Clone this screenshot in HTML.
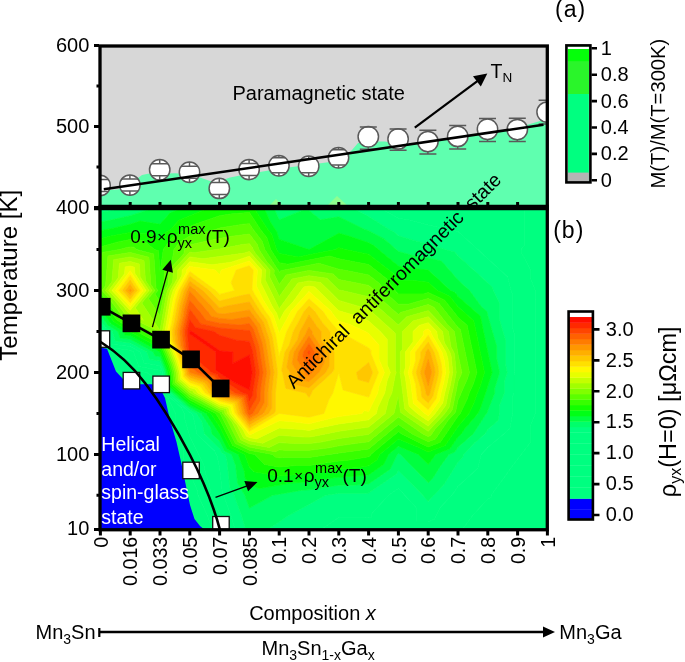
<!DOCTYPE html>
<html><head><meta charset="utf-8"><style>
html,body{margin:0;padding:0;background:#fff;width:685px;height:662px;overflow:hidden}
svg{display:block}
text{font-family:"Liberation Sans",Arial,sans-serif}
</style></head><body>
<svg width="685" height="662" viewBox="0 0 685 662">
<defs><clipPath id="cb"><rect x="100" y="208" width="447.3" height="321"/></clipPath><clipPath id="ca"><rect x="100" y="46" width="447.3" height="161.6"/></clipPath></defs>
<rect x="100" y="46" width="447.3" height="161.6" fill="#d7d7d7"/>
<polygon fill="#5fffaf" points="100.0,196.0 104.0,193.0 108.0,190.0 118.0,189.5 128.0,186.0 134.0,182.0 138.0,178.0 142.0,175.0 148.0,173.8 176.0,173.3 190.0,175.0 200.0,177.5 210.0,181.0 220.0,181.0 230.0,177.5 240.0,175.5 260.0,172.0 280.0,168.5 300.0,166.0 330.0,162.0 345.0,157.0 352.0,150.0 358.0,143.0 370.0,141.5 385.0,141.5 400.0,144.5 420.0,144.0 440.0,140.0 460.0,136.5 480.0,134.0 500.0,131.0 520.0,127.0 540.0,121.0 547.3,118.0 547.3,208.0 100.0,208.0"/>
<polygon fill="#8fff8f" points="268,207 276,199 284,207"/><polygon fill="#8fff8f" points="326,207 337,196 349,207"/>
<g clip-path="url(#cb)">
<path fill="#00ff80" stroke="#00ff80" stroke-width="0.7" d="M98.0 358.8L119.5 372.5L119.5 379.3L130.2 386.1L140.1 393.0L150.1 399.8L160.0 399.8L166.6 413.4L166.6 429.4L167.9 433.9L169.9 440.8L169.9 454.4L169.9 468.1L173.2 474.9L179.9 488.5L179.9 495.3L189.8 506.3L193.1 513.5L194.1 515.8L195.1 518.5L199.7 531.0L189.8 531.0L160.0 531.0L130.2 531.0L98.0 531.0L98.0 515.8L98.0 495.3L98.0 474.9L98.0 454.4L98.0 433.9L98.0 413.4L98.0 393.0L98.0 372.5Z"/>
<path fill="#00ff80" stroke="#00ff80" stroke-width="0.7" d="M199.7 531.0L195.1 518.5L194.1 515.8L193.1 513.5L189.8 506.3L179.9 495.3L179.9 488.5L173.2 474.9L169.9 468.0L169.9 454.4L169.9 440.8L167.9 433.9L166.6 429.4L166.6 413.4L160.0 399.8L150.1 399.8L140.1 393.0L130.2 386.2L119.5 379.3L119.5 372.5L98.0 358.8L98.0 352.0L98.0 340.6L101.0 350.1L115.9 352.0L130.2 361.1L133.5 370.2L146.8 372.5L160.0 381.6L161.0 392.3L161.8 393.0L168.3 398.7L175.5 413.4L175.5 423.3L178.5 433.9L183.2 449.8L183.2 454.4L183.2 458.9L189.8 472.6L190.6 474.3L190.7 474.9L197.2 490.3L198.1 495.4L203.2 506.6L207.4 515.8L211.4 526.8L213.0 531.0Z"/>
<path fill="#00ff80" stroke="#00ff80" stroke-width="0.7" d="M461.3 531.0L463.3 528.3L472.5 515.8L478.4 509.3L487.8 499.0L491.1 497.6L491.1 495.4L494.4 490.8L506.0 474.9L509.9 469.6L517.6 458.9L521.1 454.4L530.6 442.3L530.6 433.9L530.6 425.6L535.3 413.4L535.3 402.1L535.3 393.0L535.3 383.9L535.3 372.5L535.3 361.1L535.3 352.0L535.3 342.9L535.3 331.5L535.3 322.4L535.3 311.1L535.3 299.7L535.3 290.6L530.6 278.5L530.6 270.1L521.1 251.9L521.1 249.6L524.7 245.1L524.7 229.2L524.7 210.4L549.5 210.4L549.5 229.2L549.5 249.6L549.5 270.1L549.5 290.6L549.5 311.1L549.5 331.5L549.5 352.0L549.5 372.5L549.5 393.0L549.5 413.4L549.5 433.9L549.5 454.4L549.5 474.9L549.5 495.3L549.5 515.8L549.5 531.0L517.6 531.0L487.8 531.0ZM213.0 531.0L211.4 526.8L207.4 515.8L203.2 506.6L198.1 495.3L197.2 490.3L190.7 474.9L190.6 474.3L189.8 472.6L183.2 458.9L183.2 454.4L183.2 449.9L178.5 433.9L175.5 423.3L175.5 413.4L168.3 398.7L161.8 393.0L161.0 392.3L160.0 381.6L146.8 372.5L133.5 370.2L130.2 361.1L115.9 352.0L101.0 350.1L98.0 340.6L98.0 331.5L98.0 328.7L99.4 330.6L100.9 331.5L105.8 347.1L130.2 350.2L133.5 352.0L138.8 366.6L160.0 370.2L160.7 372.0L160.9 372.5L162.6 391.2L164.7 393.0L181.5 407.8L184.3 413.4L184.3 417.2L189.1 433.9L189.8 436.2L198.6 454.4L203.9 465.2L205.9 474.9L208.9 482.2L211.3 495.3L213.3 499.7L219.6 513.5L220.4 515.8L224.2 528.7L224.9 531.0L219.6 531.0Z"/>
<path fill="#00ff80" stroke="#00ff80" stroke-width="0.7" d="M549.5 210.4L524.7 210.4L524.7 229.2L524.7 245.1L521.1 249.6L521.1 251.9L530.6 270.1L530.6 278.5L535.3 290.6L535.3 299.7L535.3 311.1L535.3 322.4L535.3 331.5L535.3 342.9L535.3 352.0L535.3 361.1L535.3 372.5L535.3 383.9L535.3 393.0L535.3 402.1L535.3 413.4L530.6 425.6L530.6 433.9L530.6 442.3L521.1 454.4L517.6 458.9L509.9 469.6L506.0 474.9L494.4 490.8L491.1 495.4L491.1 497.6L487.8 499.0L478.4 509.3L472.5 515.8L463.3 528.3L461.3 531.0L458.0 531.0L428.2 531.0L398.4 531.0L368.6 531.0L338.8 531.0L318.9 531.0L327.4 525.2L338.8 517.5L365.3 517.5L368.6 517.5L371.9 517.5L371.9 515.8L371.9 513.6L388.5 495.3L398.4 488.5L402.4 492.6L405.0 495.4L416.1 507.5L416.1 515.8L416.1 522.0L428.2 522.0L434.6 519.1L436.0 515.8L440.3 507.5L451.4 495.4L454.0 492.6L458.0 486.2L470.4 474.9L477.9 468.0L481.2 454.4L487.8 447.6L503.7 433.9L509.9 428.6L512.6 413.5L512.6 396.4L514.0 393.0L514.0 375.0L514.8 372.5L514.3 370.2L514.3 352.0L514.3 333.8L513.6 331.5L512.6 328.1L512.6 311.1L512.6 294.0L511.0 290.6L507.7 277.0L500.2 270.1L487.8 258.8L482.1 253.6L477.9 249.6L458.0 231.5L448.1 229.2L428.2 225.1L409.8 219.9L398.4 218.3L374.8 205.0L398.4 205.0L428.2 205.0L458.0 205.0L487.8 205.0L517.6 205.0L549.5 205.0ZM224.9 531.0L224.2 528.7L220.4 515.8L219.6 513.5L213.3 499.7L211.3 495.4L208.9 482.2L205.9 474.9L203.9 465.2L198.6 454.4L189.8 436.2L189.1 433.9L184.3 417.2L184.3 413.4L181.5 407.8L164.7 393.0L162.6 391.2L160.9 372.5L160.7 372.0L160.0 370.2L138.8 366.6L133.5 352.0L130.2 350.2L105.8 347.1L100.9 331.5L99.4 330.6L98.0 328.7L98.0 323.1L102.3 328.8L106.6 331.5L110.5 344.1L130.2 346.6L140.1 352.0L144.1 362.9L160.0 365.7L162.1 371.0L162.6 372.5L164.2 390.1L167.5 393.0L189.8 412.5L191.6 413.4L193.1 415.7L196.9 433.9L214.6 451.0L216.3 454.4L217.1 456.1L219.6 468.1L220.4 474.9L222.4 493.4L223.6 495.3L224.9 499.0L231.0 515.8L233.4 524.0L235.5 531.0Z"/>
<path fill="#00ff80" stroke="#00ff80" stroke-width="0.7" d="M136.8 205.0L130.2 207.1L126.1 208.1L98.0 212.8L98.0 205.0L130.2 205.0ZM374.8 205.0L398.4 218.3L409.8 219.9L428.2 225.1L448.1 229.2L458.0 231.5L477.9 249.6L482.1 253.6L487.8 258.8L500.2 270.1L507.7 277.0L511.0 290.6L512.6 294.0L512.6 311.1L512.6 328.1L513.6 331.5L514.3 333.8L514.3 352.0L514.3 370.2L514.8 372.5L514.0 375.0L514.0 393.0L512.6 396.4L512.6 413.4L509.9 428.6L503.7 433.9L487.8 447.6L481.2 454.4L477.9 468.0L470.4 474.9L458.0 486.2L454.0 492.6L451.4 495.4L440.3 507.5L436.0 515.8L434.6 519.1L428.2 522.0L416.1 522.0L416.1 515.8L416.1 507.5L405.0 495.4L402.4 492.6L398.4 488.5L388.5 495.3L371.9 513.6L371.9 515.8L371.9 517.5L368.6 517.5L365.3 517.5L338.8 517.5L327.4 525.2L318.9 531.0L309.0 531.0L279.2 531.0L266.0 531.0L271.6 527.1L279.2 522.0L288.3 515.8L299.8 509.5L309.0 504.4L325.6 495.3L336.4 493.7L338.8 493.3L365.7 493.3L368.6 493.1L395.1 474.9L396.7 473.7L398.4 470.3L402.8 474.9L413.0 485.3L422.7 495.3L428.2 501.4L433.7 495.3L443.4 485.3L450.0 474.9L458.0 462.0L462.7 457.6L463.5 454.4L474.6 443.0L484.9 433.9L487.8 429.4L498.1 420.5L499.4 413.4L499.4 405.5L504.4 393.0L504.4 381.6L507.2 372.5L505.5 364.2L505.5 352.0L505.5 339.9L503.0 331.5L499.4 319.0L499.4 311.1L499.4 303.1L493.3 290.6L492.5 287.4L487.8 283.0L479.8 275.6L473.7 270.1L467.0 263.9L458.0 255.7L454.7 251.9L444.8 249.6L428.2 244.0L415.5 240.9L398.4 235.8L394.2 232.1L388.8 229.2L368.6 216.6L347.1 205.0L368.6 205.0ZM235.5 531.0L233.4 524.0L231.0 515.8L224.9 499.0L223.6 495.3L222.4 493.4L220.4 474.9L219.6 468.0L217.1 456.1L216.3 454.4L214.6 451.0L196.9 433.9L193.1 415.7L191.6 413.4L189.8 412.5L167.5 393.0L164.2 390.1L162.6 372.5L162.1 371.0L160.0 365.7L144.1 362.9L140.1 352.0L130.2 346.6L110.5 344.1L106.6 331.5L102.3 328.8L98.0 323.1L98.0 317.6L105.2 327.0L112.3 331.5L115.3 341.0L130.2 342.9L146.8 352.0L149.4 359.3L160.0 361.1L163.6 370.0L164.3 372.5L165.8 389.0L170.4 393.0L189.8 410.0L196.4 413.4L201.9 421.8L204.5 433.9L219.6 448.5L221.8 452.9L225.0 454.4L226.8 459.3L228.5 474.9L230.0 488.2L234.2 495.3L239.0 508.7L241.6 515.8L242.6 519.3L246.1 531.0Z"/>
<path fill="#00ff6a" stroke="#00ff6a" stroke-width="0.7" d="M163.3 205.0L161.1 205.9L160.0 207.1L157.8 206.8L130.2 215.7L109.8 220.3L98.0 222.3L98.0 212.8L126.1 208.1L130.2 207.1L136.8 205.0L160.0 205.0ZM347.1 205.0L368.6 216.6L388.8 229.2L394.2 232.1L398.4 235.8L415.5 240.9L428.2 244.0L444.8 249.6L454.7 251.9L458.0 255.7L467.0 263.9L473.7 270.1L479.8 275.6L487.8 283.0L492.5 287.4L493.3 290.6L499.4 303.1L499.4 311.1L499.4 319.0L503.0 331.5L505.5 339.9L505.5 352.0L505.5 364.2L507.2 372.5L504.4 381.6L504.4 393.0L499.4 405.5L499.4 413.4L498.1 420.5L487.8 429.4L484.9 433.9L474.6 443.0L463.5 454.4L462.7 457.6L458.0 462.0L450.0 474.9L443.4 485.3L433.7 495.3L428.2 501.4L422.7 495.3L413.0 485.3L402.8 474.9L398.4 470.3L396.7 473.7L395.1 474.9L368.6 493.1L365.7 493.3L338.8 493.3L336.4 493.7L325.6 495.3L309.0 504.4L299.8 509.5L288.3 515.8L279.2 522.0L271.6 527.1L266.0 531.0L249.4 531.0L246.1 531.0L242.6 519.3L241.6 515.8L239.0 508.7L234.2 495.3L230.0 488.2L228.5 474.9L226.8 459.3L225.0 454.4L221.8 452.9L219.6 448.5L204.5 433.9L201.9 421.8L196.4 413.4L189.8 410.0L170.4 393.0L165.8 389.0L164.3 372.5L163.6 370.0L160.0 361.1L149.4 359.3L146.8 352.0L130.2 342.9L115.3 341.0L112.3 331.5L105.2 327.0L98.0 317.6L98.0 311.9L108.0 325.2L118.0 331.5L120.1 338.0L130.2 339.3L153.4 352.0L154.7 355.7L160.0 356.6L165.0 369.1L166.0 372.5L167.4 387.9L173.2 393.0L189.8 407.5L201.2 413.4L210.8 427.9L212.0 433.9L219.6 441.2L224.5 451.0L231.6 454.4L235.6 465.4L236.7 474.9L237.6 483.0L244.8 495.3L249.4 508.1L272.6 495.3L279.2 494.2L301.7 490.3L309.0 489.8L326.8 487.1L338.8 485.2L353.9 485.2L368.6 484.0L381.8 474.9L390.1 469.2L397.3 454.4L397.8 454.0L398.4 453.5L400.6 454.4L405.0 458.9L420.5 474.9L423.6 478.1L428.2 482.8L432.8 478.1L434.8 474.9L439.8 466.9L448.9 454.4L454.7 452.1L458.0 447.2L473.1 433.9L485.2 415.3L486.7 413.4L487.0 412.9L487.8 410.4L494.7 393.0L494.7 388.2L499.6 372.5L496.6 358.1L496.6 352.0L496.6 346.0L492.4 331.5L487.8 315.6L487.0 311.6L486.3 311.1L481.2 306.5L469.6 290.6L464.6 286.1L458.0 280.0L449.4 270.1L441.4 261.0L428.2 258.0L417.8 256.8L398.4 251.5L396.2 249.6L384.2 238.9L368.6 230.7L364.2 229.2L338.8 216.8L320.6 219.8L309.0 210.4L302.4 210.4L279.2 219.8L272.5 205.0L279.2 205.0L309.0 205.0L338.8 205.0Z"/>
<path fill="#00ff40" stroke="#00ff40" stroke-width="0.7" d="M189.8 205.0L169.9 213.1L160.0 224.3L140.1 221.1L130.2 224.3L108.7 229.2L100.5 230.7L98.0 231.4L98.0 229.2L98.0 222.3L109.8 220.3L130.2 215.7L157.8 206.8L160.0 207.1L161.1 205.9L163.3 205.0ZM272.5 205.0L279.2 219.8L302.4 210.4L309.0 210.4L320.6 219.8L338.8 216.8L364.2 229.2L368.6 230.7L384.2 238.9L396.2 249.6L398.4 251.5L417.8 256.8L428.2 258.0L441.4 261.0L449.4 270.1L458.0 280.0L464.6 286.1L469.6 290.6L481.2 306.5L486.3 311.1L487.0 311.6L487.8 315.6L492.4 331.5L496.6 346.0L496.6 352.0L496.6 358.1L499.6 372.5L494.7 388.2L494.7 393.0L487.8 410.4L487.0 412.9L486.7 413.4L485.2 415.3L473.1 433.9L458.0 447.2L454.7 452.1L448.9 454.4L439.8 466.9L434.8 474.9L432.8 478.1L428.2 482.8L423.6 478.1L420.5 474.9L405.0 458.9L400.6 454.4L398.4 453.5L397.8 454.0L397.3 454.4L390.1 469.2L381.8 474.9L368.6 484.0L353.9 485.2L338.8 485.2L326.8 487.1L309.0 489.8L301.7 490.3L279.2 494.2L272.6 495.3L249.4 508.1L244.8 495.3L237.6 483.0L236.7 474.9L235.6 465.4L231.6 454.4L224.5 451.0L219.6 441.2L212.0 433.9L210.8 427.9L201.2 413.4L189.8 407.5L173.2 393.0L167.4 387.9L166.0 372.5L165.0 369.1L160.0 356.6L154.7 355.7L153.4 352.0L130.2 339.3L120.1 338.0L118.0 331.5L108.0 325.2L98.0 311.9L98.0 311.1L98.0 306.4L101.6 311.1L110.9 323.4L123.8 331.5L124.8 335.0L130.2 335.6L160.0 352.0L166.4 368.1L167.7 372.5L169.0 386.8L176.1 393.0L189.8 405.0L206.1 413.4L219.6 433.9L227.2 449.1L238.2 454.4L244.4 471.5L244.8 474.9L245.1 477.8L249.4 485.1L259.3 488.5L279.2 485.1L291.1 483.1L309.0 481.7L317.1 480.5L338.8 477.1L342.1 477.1L368.6 474.9L383.5 464.6L388.5 454.4L393.0 450.7L398.4 446.2L418.3 454.4L428.2 464.6L435.7 454.4L449.9 448.8L458.0 436.8L461.3 433.9L464.0 429.8L477.9 413.4L480.4 408.3L485.5 393.0L486.0 391.8L487.8 386.1L492.1 372.5L487.8 352.0L484.1 334.1L483.5 331.5L480.4 316.2L474.6 311.1L458.0 296.5L455.0 292.6L450.6 290.6L428.2 270.1L402.7 267.2L398.4 266.0L378.5 249.6L374.2 245.8L368.6 242.8L348.7 236.0L338.8 233.3L309.0 249.6L279.2 239.4L276.5 231.0L275.1 229.2L270.4 222.1L262.6 205.0Z"/>
<path fill="#00ff16" stroke="#00ff16" stroke-width="0.7" d="M216.3 205.0L189.8 215.7L178.8 220.2L170.9 229.2L165.1 232.7L160.0 239.6L153.1 233.9L130.2 232.4L109.3 236.3L98.0 239.5L98.0 231.4L100.5 230.7L108.7 229.2L130.2 224.3L140.1 221.1L160.0 224.3L169.9 213.1L189.8 205.0ZM262.6 205.0L270.4 222.1L275.1 229.2L276.5 231.0L279.2 239.4L309.0 249.6L338.8 233.3L348.7 236.0L368.6 242.8L374.2 245.8L378.5 249.6L398.4 266.0L402.7 267.2L428.2 270.1L450.5 290.6L455.0 292.6L458.0 296.5L474.6 311.1L480.4 316.2L483.5 331.5L484.1 334.1L487.8 352.0L492.1 372.5L487.8 386.1L486.0 391.8L485.5 393.0L480.4 408.3L477.9 413.4L464.0 429.8L461.3 433.9L458.0 436.8L449.9 448.8L435.7 454.4L428.2 464.6L418.3 454.4L398.4 446.2L393.0 450.7L388.5 454.4L383.5 464.6L368.6 474.9L342.1 477.1L338.8 477.1L317.1 480.5L309.0 481.7L291.1 483.1L279.2 485.1L259.3 488.5L249.4 485.1L245.1 477.8L244.8 474.9L244.4 471.5L238.2 454.4L227.2 449.1L219.6 433.9L206.1 413.4L189.8 405.0L176.1 393.0L169.0 386.8L167.7 372.5L166.4 368.1L160.0 352.0L130.2 335.6L124.8 335.0L123.8 331.5L110.9 323.4L101.6 311.1L98.0 306.4L98.0 300.8L105.8 311.1L113.7 321.5L129.5 331.5L129.6 331.9L130.2 332.0L133.5 333.8L160.0 348.0L161.8 352.0L167.9 367.1L169.4 372.5L170.6 385.7L179.0 393.0L189.8 402.5L210.9 413.4L219.6 426.6L223.3 433.9L230.0 447.3L244.8 454.4L249.4 466.9L254.0 471.7L272.6 474.9L277.0 476.4L279.2 476.0L280.5 475.8L292.4 474.9L307.2 473.6L309.0 473.6L311.4 473.2L338.8 469.1L358.0 467.6L368.6 465.8L376.9 460.1L379.6 454.4L388.2 447.4L398.4 438.9L416.6 446.4L428.2 452.1L445.1 445.5L452.9 433.9L458.0 426.4L469.0 413.4L473.7 403.8L477.4 393.0L479.8 387.5L484.5 372.5L483.9 369.8L480.2 352.0L477.5 338.7L476.0 331.5L473.7 320.7L462.8 311.1L458.0 306.8L449.7 296.3L437.3 290.6L428.2 282.3L413.6 280.6L398.4 280.6L393.3 273.6L388.9 270.1L368.6 254.2L363.4 253.2L345.4 249.6L338.8 247.8L335.5 249.6L309.0 254.8L298.4 256.9L279.2 253.6L276.6 249.6L271.7 234.3L267.7 229.2L254.9 209.4L252.8 205.0Z"/>
<path fill="#12ff00" stroke="#12ff00" stroke-width="0.7" d="M252.8 205.0L254.9 209.4L267.7 229.2L271.7 234.3L276.6 249.6L279.2 253.6L298.4 256.9L309.0 254.8L335.5 249.6L338.8 247.8L345.4 249.6L363.4 253.2L368.6 254.2L388.9 270.1L393.3 273.6L398.4 280.6L413.6 280.6L428.2 282.3L437.3 290.6L449.7 296.3L458.0 306.8L462.8 311.1L473.7 320.7L476.0 331.5L477.5 338.7L480.2 352.0L483.9 369.8L484.5 372.5L479.8 387.5L477.4 393.0L473.7 403.8L469.0 413.4L458.0 426.4L452.9 433.9L445.1 445.5L428.2 452.1L416.6 446.4L398.4 438.9L388.2 447.4L379.6 454.4L376.9 460.1L368.6 465.8L358.0 467.6L338.8 469.1L311.4 473.2L309.0 473.6L307.2 473.6L292.4 474.9L280.5 475.8L279.2 476.0L277.0 476.4L272.6 474.9L254.0 471.7L249.4 466.9L244.8 454.4L230.0 447.3L223.3 433.9L219.6 426.6L210.9 413.4L189.8 402.5L179.0 393.0L170.6 385.7L169.4 372.5L167.9 367.1L161.8 352.0L160.0 348.0L133.5 333.8L130.2 332.0L129.6 331.9L129.5 331.5L113.7 321.5L105.8 311.1L98.0 300.8L98.0 295.1L110.1 311.1L116.6 319.7L130.2 328.4L136.8 331.6L160.0 343.9L163.7 352.0L169.3 366.1L171.1 372.5L172.2 384.6L181.8 393.0L189.8 400.0L215.7 413.4L219.6 419.4L226.9 433.9L232.7 445.4L249.4 453.4L254.9 454.4L264.6 464.4L279.2 466.9L295.4 465.5L309.0 465.5L326.5 462.8L338.8 461.0L347.4 460.3L368.6 456.7L370.3 455.5L370.8 454.4L383.3 444.1L395.6 433.9L396.9 432.9L398.4 431.6L401.7 433.9L428.2 446.9L440.2 442.2L445.9 433.9L458.0 416.0L460.2 413.4L467.1 399.2L469.2 393.0L473.6 383.2L476.9 372.5L475.1 363.8L472.7 352.0L470.8 343.2L468.4 331.5L467.1 325.3L458.0 317.2L453.2 311.1L444.4 299.9L428.2 292.5L423.5 293.9L398.4 293.9L396.3 292.0L395.1 290.6L386.3 278.5L375.6 270.1L368.6 264.6L351.7 261.3L338.8 258.8L329.5 256.0L309.0 260.1L287.8 264.2L279.2 262.7L270.7 249.6L266.9 237.7L260.3 229.2L249.4 212.4L230.6 214.0L219.6 215.7L196.4 223.8L189.8 226.5L187.6 227.4L186.0 229.2L172.1 237.5L163.3 249.6L160.4 269.9L160.1 270.1L160.0 272.4L159.8 270.1L158.5 250.7L154.5 249.6L143.4 240.5L130.2 239.6L118.1 241.9L98.0 247.6L98.0 239.5L109.3 236.3L130.2 232.4L153.1 233.9L160.0 239.6L165.1 232.7L170.9 229.2L178.8 220.2L189.8 215.7L216.3 205.0L219.6 205.0L249.4 205.0Z"/>
<path fill="#37ff00" stroke="#37ff00" stroke-width="0.7" d="M98.0 247.6L118.1 241.9L130.2 239.6L143.4 240.6L154.5 249.6L158.5 250.7L159.8 270.1L160.0 272.4L160.1 270.1L160.4 269.9L163.3 249.6L172.1 237.5L186.0 229.2L187.6 227.4L189.8 226.5L196.4 223.8L219.6 215.7L230.6 214.0L249.4 212.4L260.3 229.2L266.9 237.7L270.7 249.6L279.2 262.7L287.8 264.2L309.0 260.1L329.5 256.0L338.8 258.8L351.7 261.3L368.6 264.6L375.6 270.1L386.3 278.5L395.1 290.6L396.3 292.0L398.4 293.9L423.5 293.9L428.2 292.5L444.4 299.9L453.2 311.1L458.0 317.2L467.1 325.3L468.4 331.5L470.8 343.2L472.7 352.0L475.1 363.8L476.9 372.5L473.6 383.2L469.2 393.0L467.1 399.2L460.2 413.4L458.0 416.0L445.9 433.9L440.2 442.2L428.2 446.9L401.7 433.9L398.4 431.6L396.9 432.9L395.6 433.9L383.3 444.1L370.8 454.4L370.3 455.5L368.6 456.7L347.4 460.3L338.8 461.0L326.5 462.8L309.0 465.5L295.4 465.5L279.2 466.9L264.6 464.4L254.9 454.4L249.4 453.4L232.7 445.4L226.9 433.9L219.6 419.4L215.7 413.4L189.8 400.0L181.8 393.0L172.2 384.6L171.1 372.5L169.3 366.1L163.7 352.0L160.0 343.9L136.8 331.5L130.2 328.4L116.6 319.7L110.1 311.1L98.0 295.1L98.0 290.6L98.0 270.1L98.0 249.6ZM216.3 229.2L189.8 236.0L179.2 242.4L173.9 249.6L172.1 261.8L164.6 270.1L163.5 288.2L162.1 290.6L161.7 291.8L160.0 301.5L155.0 294.0L157.8 290.6L156.0 287.9L154.8 270.1L153.7 254.0L136.8 249.6L133.8 247.2L130.2 246.9L126.9 247.5L119.5 249.6L102.3 252.4L100.8 270.1L99.2 289.8L98.6 290.6L99.5 291.6L114.3 311.1L119.5 317.9L130.2 324.7L144.4 331.5L160.0 339.9L165.5 352.0L170.7 365.1L172.8 372.5L173.8 383.5L184.7 393.0L189.8 397.4L216.8 411.5L219.6 413.1L220.0 413.2L220.1 413.4L220.6 414.2L230.6 433.9L235.4 443.5L249.4 450.2L272.6 454.4L275.2 457.1L279.2 457.8L283.6 457.4L309.0 457.4L328.9 454.4L337.3 453.4L338.8 453.0L341.3 452.7L368.6 448.9L378.5 440.7L386.8 433.9L392.1 429.6L398.4 424.4L412.3 433.9L428.2 441.7L435.4 438.9L438.8 433.9L448.1 420.3L454.4 413.4L455.6 411.8L458.0 399.8L460.5 394.7L461.1 393.0L467.3 378.9L469.4 372.5L466.3 357.7L465.1 352.0L464.2 347.8L460.8 331.5L460.5 329.8L458.0 327.6L445.0 311.1L439.1 303.6L428.2 298.6L408.3 304.2L398.4 304.2L389.7 296.6L384.5 290.6L379.2 283.3L368.6 275.0L343.8 270.1L339.9 269.4L338.8 269.2L318.9 263.3L309.0 265.2L284.2 270.1L280.3 270.9L279.2 272.4L278.4 270.7L278.4 270.1L277.2 268.8L264.9 249.6L262.0 241.0L253.0 229.2L249.4 223.7L243.3 224.2L219.6 228.0Z"/>
<path fill="#5bff00" stroke="#5bff00" stroke-width="0.7" d="M219.6 228.0L243.3 224.2L249.4 223.7L253.0 229.2L262.0 241.0L264.9 249.6L277.2 268.8L278.4 270.1L278.4 270.7L279.2 272.4L280.3 270.9L284.2 270.1L309.0 265.2L318.9 263.3L338.8 269.2L339.9 269.4L343.8 270.1L368.6 275.0L379.2 283.3L384.5 290.6L389.7 296.6L398.4 304.2L408.3 304.2L428.2 298.6L439.1 303.6L445.0 311.1L458.0 327.6L460.5 329.8L460.8 331.6L464.2 347.8L465.1 352.0L466.3 357.7L469.4 372.5L467.3 378.9L461.1 393.0L460.5 394.7L458.0 399.8L455.6 411.8L454.4 413.4L448.1 420.3L438.8 433.9L435.4 438.9L428.2 441.7L412.3 433.9L398.4 424.4L392.1 429.6L386.8 433.9L378.5 440.7L368.6 448.9L341.3 452.7L338.8 453.0L337.3 453.3L328.9 454.4L309.0 457.4L283.6 457.4L279.2 457.8L275.2 457.1L272.6 454.4L249.4 450.2L235.4 443.5L230.6 433.9L220.6 414.2L220.1 413.4L220.0 413.2L219.6 413.1L216.8 411.5L189.8 397.4L184.7 393.0L173.8 383.5L172.8 372.5L170.7 365.1L165.5 352.0L160.0 339.9L144.4 331.5L130.2 324.7L119.5 317.9L114.3 311.1L99.5 291.6L98.6 290.6L99.2 289.8L100.8 270.1L102.3 252.4L119.5 249.6L126.9 247.5L130.2 246.9L133.8 247.2L136.8 249.7L153.7 254.0L154.8 270.1L156.0 287.9L157.8 290.6L155.0 294.0L160.0 301.5L161.7 291.8L162.1 290.6L163.5 288.2L164.6 270.1L172.1 261.8L173.9 249.6L179.2 242.4L189.8 236.0L216.3 229.2ZM160.0 335.8L167.3 352.0L172.2 364.1L174.5 372.5L175.5 382.4L187.6 393.0L189.8 394.9L201.6 401.1L219.6 411.0L222.1 411.7L222.6 413.4L226.2 418.0L234.2 433.9L238.1 441.7L249.4 447.1L275.3 451.7L279.2 449.8L285.2 450.3L309.0 450.3L329.1 447.8L338.8 445.8L354.5 443.6L368.6 441.7L373.7 437.4L378.0 433.9L387.3 426.3L398.4 417.1L422.9 433.9L428.2 436.5L430.6 435.6L431.7 433.9L434.8 429.4L449.6 413.4L452.3 409.6L455.7 393.0L456.1 391.6L458.0 381.6L461.1 374.6L461.8 372.5L458.0 354.3L457.8 352.2L457.8 352.0L457.6 351.7L454.3 331.5L447.0 324.0L436.9 311.1L433.8 307.2L428.2 304.6L405.7 311.1L400.5 312.5L398.4 314.6L394.4 311.1L383.1 301.1L373.9 290.6L372.1 288.2L368.6 285.4L358.0 283.3L338.8 279.6L333.2 274.0L309.0 270.4L286.2 274.9L279.2 284.5L274.0 273.7L274.2 270.1L266.6 261.5L259.0 249.6L257.2 244.3L249.4 234.1L230.3 236.5L219.6 238.6L200.4 242.4L189.8 245.1L186.3 247.2L184.5 249.6L183.9 253.7L169.0 270.1L168.1 285.1L164.9 290.6L164.0 293.4L160.9 311.1L160.0 316.1L156.7 311.1L148.4 298.6L154.8 290.6L150.7 284.2L149.8 270.1L148.9 257.3L130.2 252.5L108.0 256.0L106.9 270.1L105.6 285.8L102.0 290.6L107.7 296.8L118.5 311.1L122.3 316.1L130.2 321.1L152.0 331.5Z"/>
<path fill="#80ff00" stroke="#80ff00" stroke-width="0.7" d="M152.0 331.5L130.2 321.1L122.3 316.1L118.5 311.1L107.7 296.8L102.0 290.6L105.6 285.8L106.9 270.1L108.0 256.0L130.2 252.5L148.9 257.3L149.8 270.1L150.7 284.2L154.8 290.6L148.4 298.6L156.7 311.1L160.0 316.1L160.9 311.1L164.0 293.4L164.9 290.6L168.1 285.1L169.0 270.1L183.9 253.7L184.5 249.6L186.3 247.2L189.8 245.1L200.4 242.4L219.6 238.6L230.3 236.5L249.4 234.1L257.2 244.3L259.0 249.6L266.6 261.5L274.2 270.1L274.0 273.7L279.2 284.5L286.2 274.9L309.0 270.4L333.2 274.0L338.8 279.6L358.0 283.3L368.6 285.4L372.1 288.2L373.9 290.6L383.1 301.1L394.4 311.1L398.4 314.6L400.5 312.5L405.7 311.1L428.2 304.6L433.8 307.2L436.9 311.1L447.0 324.0L454.3 331.5L457.6 351.7L457.8 352.0L457.8 352.2L458.0 354.3L461.8 372.5L461.1 374.6L458.0 381.6L456.1 391.6L455.7 393.0L452.3 409.6L449.6 413.4L434.8 429.4L431.7 433.9L430.6 435.6L428.2 436.5L422.9 433.9L398.4 417.1L387.3 426.3L378.0 433.9L373.7 437.4L368.6 441.7L354.5 443.6L338.8 445.8L329.1 447.8L309.0 450.3L285.2 450.3L279.2 449.8L275.3 451.7L249.4 447.1L238.1 441.7L234.2 433.9L226.2 418.0L222.6 413.4L222.1 411.7L219.6 411.0L201.6 401.1L189.8 394.9L187.6 393.0L175.5 382.4L174.5 372.5L172.2 364.1L167.3 352.0L160.0 335.8ZM160.0 331.8L169.1 352.0L173.6 363.2L176.2 372.5L177.1 381.3L189.8 392.4L190.3 392.6L190.6 393.0L219.6 409.0L224.2 410.3L225.1 413.4L231.8 421.8L237.9 433.9L240.8 439.8L249.4 443.9L269.1 447.4L279.2 442.6L294.9 443.6L309.0 443.6L321.0 442.1L338.8 438.5L367.8 434.5L368.6 434.4L368.9 434.1L369.2 433.9L382.4 423.0L394.0 413.4L398.4 395.2L400.5 412.0L402.2 413.4L428.2 431.3L444.8 413.4L449.1 407.3L452.0 393.0L452.9 389.5L456.2 372.5L454.5 354.4L453.8 352.0L451.0 347.2L448.4 331.5L429.3 311.8L428.7 311.1L428.5 310.8L428.2 310.7L426.9 311.1L406.8 316.8L398.4 325.1L382.6 311.1L376.5 305.7L368.6 296.7L342.1 290.6L338.8 290.0L326.9 278.3L309.0 275.7L292.1 279.0L283.6 290.6L279.2 296.7L276.3 290.6L269.5 276.8L270.0 270.1L256.0 254.2L253.1 249.6L252.4 247.6L249.4 243.7L242.0 244.6L219.6 249.0L216.3 249.6L194.2 252.7L189.8 252.1L173.4 270.1L172.7 281.9L167.7 290.6L166.3 295.0L163.5 311.1L160.0 330.6L147.1 311.1L141.8 303.1L151.9 290.6L145.4 280.6L144.7 270.1L144.0 260.6L130.2 257.0L113.7 259.7L112.9 270.1L111.9 281.8L105.4 290.6L115.9 302.0L122.8 311.1L125.2 314.3L130.2 317.4L159.5 331.5Z"/>
<path fill="#a2ff00" stroke="#a2ff00" stroke-width="0.7" d="M159.5 331.5L130.2 317.4L125.2 314.3L122.8 311.1L115.9 302.0L105.4 290.6L111.9 281.8L112.9 270.1L113.7 259.7L130.2 257.0L144.0 260.6L144.7 270.1L145.4 280.6L151.9 290.6L141.8 303.1L147.1 311.1L160.0 330.6L163.5 311.1L166.3 295.0L167.7 290.6L172.7 281.9L173.4 270.1L189.8 252.1L194.2 252.7L216.3 249.6L219.6 249.0L242.0 244.6L249.4 243.7L252.4 247.6L253.1 249.6L256.0 254.2L270.0 270.1L269.5 276.8L276.3 290.6L279.2 296.7L283.6 290.6L292.1 279.0L309.0 275.7L326.9 278.3L338.8 290.0L342.1 290.6L368.6 296.7L376.5 305.7L382.6 311.1L398.4 325.0L406.8 316.8L426.9 311.1L428.2 310.7L428.5 310.8L428.7 311.1L429.3 311.8L448.4 331.5L451.0 347.2L453.8 352.0L454.5 354.4L456.2 372.5L452.9 389.5L452.0 393.0L449.1 407.3L444.8 413.4L428.2 431.3L402.2 413.4L400.5 412.0L398.4 395.2L394.0 413.4L382.4 423.0L369.2 433.9L368.9 434.1L368.6 434.4L367.8 434.5L338.8 438.5L321.0 442.1L309.0 443.6L294.9 443.6L279.2 442.6L269.1 447.4L249.4 443.9L240.8 439.8L237.9 433.9L231.8 421.8L225.1 413.5L224.2 410.3L219.6 409.0L190.6 393.0L190.3 392.6L189.8 392.4L177.1 381.3L176.2 372.5L173.6 363.2L169.1 352.0L160.0 331.8ZM265.8 270.1L249.4 251.4L244.4 253.1L219.6 256.5L203.0 258.8L189.8 256.9L177.8 270.1L177.3 278.7L170.5 290.6L168.6 296.5L166.1 311.1L162.8 329.7L162.3 331.5L162.5 333.3L171.0 352.0L175.0 362.2L177.9 372.5L178.7 380.2L189.8 389.9L192.7 390.9L194.3 393.0L219.6 407.0L226.4 408.8L227.6 413.4L237.4 425.7L241.5 433.9L243.5 437.9L249.4 440.8L262.8 443.2L279.2 435.3L304.5 437.0L309.0 437.0L312.8 436.5L325.6 433.9L338.8 431.2L343.8 430.5L368.6 427.1L377.6 419.7L385.2 413.4L388.5 399.8L391.8 393.0L395.3 374.6L396.2 372.5L395.3 370.4L395.3 352.0L395.3 333.6L393.4 331.5L378.5 317.9L370.8 311.1L369.8 310.2L368.6 308.8L363.6 307.7L338.8 300.4L328.9 290.6L320.7 282.6L309.0 280.9L298.0 283.0L292.4 290.6L279.2 308.8L270.4 290.6L265.1 279.8ZM127.0 311.1L128.1 312.4L130.2 313.8L143.4 320.2L137.4 311.1L135.2 307.7L149.0 290.6L140.1 276.9L139.7 270.1L139.2 263.9L130.2 261.6L119.5 263.3L118.9 270.1L118.3 277.7L108.7 290.6L124.1 307.2ZM413.0 321.1L402.4 331.5L402.4 349.3L400.3 352.0L400.3 371.2L399.9 372.5L400.3 373.8L402.8 393.0L404.8 409.0L409.8 413.5L428.2 426.1L439.9 413.4L445.9 405.1L448.3 393.0L449.8 387.4L452.7 372.5L451.2 356.7L449.8 352.0L444.3 342.6L442.5 331.5L428.2 316.8Z"/>
<path fill="#c4ff00" stroke="#c4ff00" stroke-width="0.7" d="M265.1 279.8L270.4 290.6L279.2 308.8L292.4 290.6L298.0 283.0L309.0 280.9L320.7 282.6L328.9 290.6L338.8 300.4L363.6 307.7L368.6 308.8L369.8 310.2L370.8 311.1L378.5 317.9L393.4 331.5L395.3 333.6L395.3 352.0L395.3 370.4L396.2 372.5L395.3 374.6L391.8 393.0L388.5 399.8L385.2 413.4L377.6 419.7L368.6 427.1L343.8 430.5L338.8 431.2L325.6 433.9L312.8 436.5L309.0 437.0L304.5 437.0L279.2 435.3L262.8 443.2L249.4 440.8L243.5 437.9L241.5 433.9L237.4 425.7L227.6 413.4L226.4 408.8L219.6 407.0L194.3 393.0L192.7 390.9L189.8 389.9L178.7 380.2L177.9 372.5L175.0 362.2L171.0 352.0L162.5 333.3L162.3 331.5L162.8 329.7L166.1 311.1L168.6 296.5L170.5 290.6L177.3 278.7L177.8 270.1L189.8 256.9L203.0 258.8L219.6 256.5L244.4 253.1L249.4 251.4L265.8 270.1ZM124.1 307.2L108.7 290.6L118.3 277.7L118.9 270.1L119.5 263.3L130.2 261.6L139.2 263.9L139.7 270.1L140.1 276.9L149.0 290.6L135.2 307.7L137.4 311.1L143.4 320.2L130.2 313.8L128.1 312.4L127.0 311.1ZM428.2 316.8L442.5 331.5L444.3 342.6L449.8 352.0L451.2 356.7L452.7 372.5L449.8 387.4L448.3 393.0L445.9 405.1L439.9 413.4L428.2 426.1L409.8 413.4L404.8 409.0L402.8 393.0L400.3 373.8L399.9 372.5L400.3 371.2L400.3 352.0L402.4 349.3L402.4 331.5L413.0 321.1ZM261.6 270.1L249.4 256.2L231.2 262.2L219.6 263.8L211.9 264.8L189.8 261.8L182.2 270.1L181.9 275.6L173.2 290.6L170.9 298.1L168.6 311.1L165.7 327.6L164.8 331.5L165.1 335.1L172.8 352.0L176.5 361.2L179.7 372.5L180.3 379.0L189.8 387.4L195.2 389.3L197.9 393.0L219.6 405.0L228.5 407.4L230.2 413.4L243.0 429.5L245.2 433.9L246.3 436.1L249.4 437.6L256.6 438.9L266.9 433.9L279.2 428.0L302.7 429.6L309.0 430.4L317.0 428.4L338.8 423.9L357.0 421.4L368.6 419.8L372.8 416.3L376.3 413.5L377.9 407.1L384.7 393.0L387.2 380.2L390.3 372.5L387.2 364.8L387.2 352.0L387.2 339.2L380.2 331.5L368.6 320.9L360.0 317.0L339.9 311.1L338.8 310.8L318.3 290.6L314.5 286.9L309.0 286.1L303.8 287.1L301.3 290.6L293.5 301.2L284.6 311.1L283.1 313.8L279.2 320.9L276.5 312.9L275.1 311.1L272.0 306.1L264.5 290.6L260.7 282.8ZM130.2 310.2L146.0 290.6L134.8 273.3L134.6 270.1L134.4 267.2L130.2 266.1L125.2 266.9L124.9 270.1L124.6 273.7L112.1 290.6ZM419.2 325.4L413.0 331.5L413.0 342.0L405.4 352.0L405.4 367.7L404.0 372.5L405.4 377.3L407.4 393.0L409.1 406.1L417.3 413.4L428.2 420.9L435.1 413.4L442.7 402.9L444.7 393.0L446.7 385.2L449.2 372.5L447.9 359.0L445.9 352.0L437.7 338.1L436.7 331.5L428.2 322.8Z"/>
<path fill="#e7ff00" stroke="#e7ff00" stroke-width="0.7" d="M260.7 282.8L264.5 290.6L272.0 306.1L275.1 311.1L276.5 312.9L279.2 320.9L283.1 313.8L284.6 311.1L293.5 301.2L301.3 290.6L303.8 287.1L309.0 286.1L314.5 286.9L318.3 290.6L338.8 310.8L339.9 311.1L360.0 317.0L368.6 320.9L380.2 331.5L387.2 339.2L387.2 352.0L387.2 364.8L390.3 372.5L387.2 380.2L384.7 393.0L377.9 407.1L376.3 413.4L372.8 416.3L368.6 419.8L357.0 421.4L338.8 423.9L317.0 428.4L309.0 430.4L302.7 429.6L279.2 428.0L266.9 433.9L256.6 438.9L249.4 437.6L246.3 436.1L245.2 433.9L243.0 429.5L230.2 413.5L228.5 407.4L219.6 405.0L197.9 393.0L195.2 389.3L189.8 387.4L180.3 379.0L179.7 372.5L176.5 361.2L172.8 352.0L165.1 335.1L164.8 331.5L165.7 327.6L168.6 311.1L170.9 298.1L173.2 290.6L181.9 275.6L182.2 270.1L189.8 261.8L211.9 264.8L219.6 263.8L231.2 262.2L249.4 256.2L261.6 270.1ZM112.1 290.6L124.6 273.7L124.9 270.1L125.2 266.9L130.2 266.1L134.4 267.2L134.6 270.1L134.8 273.3L146.0 290.6L130.2 310.2ZM428.2 322.8L436.7 331.5L437.7 338.1L445.9 352.0L447.9 359.0L449.2 372.5L446.7 385.2L444.7 393.0L442.7 402.9L435.1 413.4L428.2 420.9L417.3 413.4L409.1 406.1L407.4 393.0L405.4 377.3L404.0 372.5L405.4 367.7L405.4 352.0L413.0 342.0L413.0 331.5L419.2 325.4ZM257.4 270.1L249.4 261.0L221.4 270.1L219.6 274.7L215.2 270.1L189.8 266.6L186.6 270.1L186.5 272.4L176.0 290.6L173.2 299.7L171.2 311.1L168.6 325.6L167.3 331.5L167.8 336.9L174.6 352.0L177.9 360.2L181.4 372.5L181.9 377.9L189.8 384.9L197.6 387.6L201.6 393.0L219.6 403.0L230.6 405.9L232.7 413.5L248.5 433.3L248.8 433.9L249.0 434.2L249.4 434.4L250.4 434.6L251.8 433.9L279.2 420.7L291.0 421.5L309.0 423.8L332.2 418.0L338.8 416.6L362.0 413.4L364.2 410.4L368.6 411.6L377.7 393.0L379.0 385.8L384.4 372.5L379.0 359.2L379.0 352.0L379.0 344.9L368.6 333.4L365.3 331.5L349.4 324.3L338.8 321.2L333.4 314.8L330.9 311.1L309.0 291.5L291.2 311.1L287.9 317.1L280.0 331.5L279.2 334.4L278.8 331.8L278.7 331.5L273.2 315.2L270.1 311.1L263.2 300.1L258.6 290.6L256.3 285.9ZM130.2 306.5L143.1 290.6L130.2 270.7L115.5 290.6ZM425.5 329.7L423.6 331.5L423.6 334.7L410.5 352.0L410.5 364.2L408.1 372.5L410.5 380.8L412.1 393.0L413.4 403.2L424.9 413.5L428.2 415.7L430.3 413.4L439.4 400.7L441.0 393.0L443.6 383.1L445.6 372.5L444.5 361.3L441.9 352.0L431.1 333.5L430.8 331.5L428.2 328.9Z"/>
<path fill="#fff800" stroke="#fff800" stroke-width="0.7" d="M256.3 285.9L258.6 290.6L263.2 300.1L270.1 311.1L273.2 315.2L278.7 331.5L278.8 331.8L279.2 334.4L280.0 331.5L287.9 317.1L291.2 311.1L309.0 291.5L330.9 311.1L333.4 314.8L338.8 321.2L349.4 324.3L365.3 331.5L368.6 333.4L379.0 344.9L379.0 352.0L379.0 359.2L384.4 372.5L379.0 385.8L377.7 393.0L368.6 411.6L364.2 410.4L362.0 413.4L338.8 416.6L332.2 418.0L309.0 423.8L291.0 421.5L279.2 420.7L251.8 433.9L250.4 434.6L249.4 434.4L249.0 434.2L248.8 433.9L248.5 433.3L232.7 413.4L230.6 405.9L219.6 403.0L201.6 393.0L197.6 387.6L189.8 384.9L181.9 377.9L181.4 372.5L177.9 360.2L174.6 352.0L167.8 336.9L167.3 331.5L168.6 325.6L171.2 311.1L173.2 299.7L176.0 290.6L186.5 272.4L186.6 270.1L189.8 266.6L215.2 270.1L219.6 274.7L221.4 270.1L249.4 261.0L257.4 270.1ZM115.5 290.6L130.2 270.7L143.1 290.6L130.2 306.5ZM428.2 328.9L430.8 331.5L431.1 333.5L441.9 352.0L444.5 361.3L445.6 372.5L443.6 383.1L441.0 393.0L439.4 400.7L430.3 413.4L428.2 415.7L424.9 413.4L413.4 403.2L412.1 393.0L410.5 380.8L408.1 372.5L410.5 364.2L410.5 352.0L423.6 334.7L423.6 331.5L425.5 329.7ZM338.8 372.5L343.1 390.0L353.7 393.0L368.6 397.1L370.6 393.0L370.9 391.4L378.5 372.5L370.9 353.6L370.9 352.0L370.9 350.4L368.6 347.9L338.8 331.5L327.8 318.6L322.8 311.1L309.0 298.8L297.8 311.1L292.7 320.4L286.7 331.5L281.1 350.7L280.2 352.0L279.2 357.9L278.4 352.0L275.5 334.1L274.6 331.5L269.9 317.5L265.1 311.1L254.4 294.0L252.7 290.6L251.9 288.9L253.2 270.1L249.4 265.8L236.2 270.1L231.1 282.7L234.5 290.6L219.6 294.4L215.9 290.6L189.8 271.5L178.8 290.6L175.5 301.3L173.8 311.1L171.6 323.6L169.7 331.5L170.4 338.7L176.4 352.0L179.3 359.2L183.1 372.5L183.5 376.8L189.8 382.4L200.0 386.0L205.2 393.0L219.6 400.9L232.7 404.4L235.2 413.4L249.4 431.3L279.2 413.4L309.0 417.2L323.9 413.4L328.9 399.8L332.8 393.0ZM130.2 302.9L140.1 290.6L130.2 275.2L118.8 290.6ZM437.3 393.0L440.5 380.9L442.1 372.5L441.2 363.5L438.0 352.0L428.2 335.3L415.6 352.0L415.6 360.7L412.2 372.5L415.6 384.3L416.7 393.0L417.6 400.2L428.2 409.7L436.2 398.5Z"/>
<path fill="#ffe000" stroke="#ffe000" stroke-width="0.7" d="M332.8 393.0L328.9 399.8L323.9 413.4L309.0 417.2L279.2 413.4L249.4 431.3L235.2 413.4L232.7 404.4L219.6 400.9L205.2 393.0L200.0 386.0L189.8 382.4L183.5 376.8L183.1 372.5L179.3 359.2L176.4 352.0L170.4 338.7L169.7 331.5L171.6 323.6L173.8 311.1L175.5 301.3L178.8 290.6L189.8 271.5L215.9 290.6L219.6 294.4L234.5 290.6L231.1 282.7L236.2 270.1L249.4 265.8L253.2 270.1L251.9 288.9L252.7 290.6L254.4 294.0L265.1 311.1L269.9 317.5L274.6 331.5L275.5 334.1L278.4 352.0L279.2 357.9L280.2 352.0L281.1 350.7L286.7 331.5L292.7 320.4L297.8 311.1L309.0 298.8L322.8 311.1L327.8 318.6L338.8 331.5L368.6 347.9L370.9 350.4L370.9 352.0L370.9 353.6L378.5 372.5L370.9 391.4L370.6 393.0L368.6 397.1L353.7 393.0L343.1 390.0L338.8 372.5ZM118.8 290.6L130.2 275.2L140.1 290.6L130.2 302.9ZM436.2 398.5L428.2 409.7L417.6 400.2L416.7 393.0L415.6 384.3L412.2 372.5L415.6 360.7L415.6 352.0L428.2 335.3L438.0 352.0L441.2 363.5L442.1 372.5L440.5 380.9L437.3 393.0ZM332.2 372.5L334.0 369.2L334.0 352.0L330.0 346.0L330.0 331.5L322.2 322.4L314.6 311.1L309.0 306.1L304.4 311.1L297.6 323.7L293.3 331.5L289.3 345.1L284.9 352.0L281.5 370.9L282.5 372.5L285.8 388.4L305.7 393.0L309.0 397.5L311.6 393.0L312.3 390.7ZM130.2 299.2L137.2 290.6L130.2 279.8L122.2 290.6ZM181.6 290.6L177.9 302.9L176.4 311.1L174.5 321.6L172.2 331.5L173.1 340.5L178.3 352.0L180.8 358.2L184.8 372.5L185.1 375.7L189.8 379.9L202.4 384.3L208.9 393.0L219.6 398.9L234.8 403.0L237.7 413.4L249.4 428.1L273.9 413.4L275.4 410.8L275.4 393.0L277.4 373.7L277.6 372.5L277.4 371.3L274.7 352.0L272.2 336.4L270.5 331.5L266.6 319.7L260.1 311.1L249.4 294.1L242.6 295.3L219.6 301.1L209.3 290.6L189.8 276.3ZM433.6 393.0L437.4 378.8L438.6 372.5L437.9 365.8L434.0 352.0L428.2 342.1L420.7 352.0L420.7 357.2L416.2 372.5L420.7 387.8L421.3 393.0L421.9 397.3L428.2 402.9L433.0 396.2ZM358.2 379.6L368.6 382.5L372.6 372.5L368.6 362.5L356.5 372.5Z"/>
<path fill="#ffc700" stroke="#ffc700" stroke-width="0.7" d="M312.3 390.7L311.6 393.0L309.0 397.5L305.7 393.0L285.8 388.4L282.5 372.5L281.5 370.9L284.9 352.0L289.3 345.1L293.3 331.5L297.6 323.7L304.4 311.1L309.0 306.1L314.6 311.1L322.2 322.5L330.0 331.5L330.0 346.0L334.0 352.0L334.0 369.2L332.2 372.5ZM122.2 290.6L130.2 279.8L137.2 290.6L130.2 299.2ZM189.8 276.3L209.3 290.6L219.6 301.1L242.6 295.3L249.4 294.1L260.1 311.1L266.6 319.7L270.5 331.5L272.2 336.4L274.7 352.0L277.4 371.3L277.6 372.5L277.4 373.7L275.4 393.0L275.4 410.9L273.9 413.4L249.4 428.1L237.7 413.5L234.8 403.0L219.6 398.9L208.9 393.0L202.4 384.3L189.8 379.9L185.1 375.7L184.8 372.5L180.8 358.2L178.3 352.0L173.1 340.5L172.2 331.5L174.5 321.6L176.4 311.1L177.9 302.9L181.6 290.6ZM433.0 396.2L428.2 402.9L421.9 397.3L421.3 393.0L420.7 387.8L416.2 372.5L420.7 357.2L420.7 352.0L428.2 342.1L434.0 352.0L437.9 365.8L438.6 372.5L437.4 378.8L433.6 393.0ZM356.5 372.5L368.6 362.5L372.6 372.5L368.6 382.5L358.2 379.6ZM325.6 372.5L329.2 365.9L329.2 352.0L321.1 339.9L321.1 331.5L316.7 326.3L309.0 314.9L302.4 327.0L299.9 331.5L297.6 339.4L289.5 352.0L286.8 367.3L290.1 372.5L292.4 383.9L309.0 387.7ZM130.2 295.6L134.2 290.6L130.2 284.3L125.6 290.6ZM184.4 290.6L180.2 304.4L179.0 311.1L177.5 319.5L174.7 331.5L175.7 342.4L180.1 352.0L182.2 357.3L186.5 372.5L186.7 374.6L189.8 377.4L204.8 382.6L212.5 393.0L219.6 396.9L237.0 401.5L240.3 413.4L249.4 424.9L268.6 413.5L271.6 408.2L271.6 393.0L273.3 376.5L274.0 372.5L273.3 368.5L271.0 352.0L268.9 338.7L266.5 331.5L263.3 322.0L255.1 311.1L249.4 302.0L227.0 306.0L219.6 307.9L202.6 290.6L189.8 281.2ZM429.9 393.0L434.2 376.6L435.0 372.5L434.6 368.1L430.1 352.0L428.2 348.8L425.8 352.0L425.8 353.7L420.3 372.5L425.8 391.3L426.0 393.0L426.2 394.4L428.2 396.2L429.7 394.0Z"/>
<path fill="#ffaf00" stroke="#ffaf00" stroke-width="0.7" d="M309.0 387.7L292.4 383.9L290.1 372.5L286.8 367.3L289.5 352.0L297.6 339.4L299.9 331.5L302.4 327.0L309.0 314.9L316.7 326.3L321.1 331.5L321.1 339.9L329.2 352.0L329.2 365.9L325.6 372.5ZM125.6 290.6L130.2 284.3L134.2 290.6L130.2 295.6ZM189.8 281.2L202.6 290.6L219.6 307.9L227.0 306.0L249.4 302.0L255.1 311.1L263.3 322.0L266.5 331.5L268.9 338.7L271.0 352.0L273.3 368.5L274.0 372.5L273.3 376.5L271.6 393.0L271.6 408.2L268.6 413.5L249.4 424.9L240.3 413.4L237.0 401.5L219.6 396.9L212.5 393.0L204.8 382.6L189.8 377.4L186.7 374.6L186.5 372.5L182.2 357.3L180.1 352.0L175.7 342.4L174.7 331.5L177.5 319.5L179.0 311.1L180.2 304.4L184.4 290.6ZM429.7 394.0L428.2 396.2L426.2 394.4L426.0 393.0L425.8 391.3L420.3 372.5L425.8 353.7L425.8 352.0L428.2 348.8L430.1 352.0L434.6 368.1L435.0 372.5L434.2 376.6L429.9 393.0ZM318.9 372.5L324.4 362.6L324.4 352.0L312.3 333.8L312.3 331.5L311.1 330.1L309.0 327.0L307.2 330.3L306.5 331.5L305.9 333.7L294.2 352.0L292.1 363.6L297.6 372.5L299.1 379.3L309.0 381.6ZM130.2 292.0L131.3 290.6L130.2 288.9L128.9 290.6ZM187.2 290.6L182.5 306.0L181.6 311.1L180.4 317.5L177.2 331.5L178.4 344.2L181.9 352.0L183.6 356.3L188.2 372.5L188.3 373.5L189.8 374.9L207.3 381.0L216.2 393.0L219.6 394.9L239.1 400.1L242.8 413.4L249.4 421.8L263.3 413.4L267.8 405.6L267.8 393.0L269.3 379.3L270.4 372.5L269.3 365.7L267.3 352.0L265.5 340.9L262.4 331.5L260.0 324.3L250.1 311.1L249.4 309.9L242.8 311.1L223.8 314.0L219.6 313.6L216.8 313.0L215.4 311.1L208.9 303.7L196.0 290.6L189.8 286.1ZM431.5 372.5L431.3 370.4L428.2 359.4L424.4 372.5L428.2 385.6L431.1 374.5Z"/>
<path fill="#ff9700" stroke="#ff9700" stroke-width="0.7" d="M309.0 381.6L299.1 379.3L297.6 372.5L292.1 363.6L294.2 352.0L305.9 333.7L306.5 331.5L307.2 330.3L309.0 327.0L311.1 330.1L312.3 331.5L312.3 333.8L324.4 352.0L324.4 362.6L318.9 372.5ZM128.9 290.6L130.2 288.9L131.3 290.6L130.2 292.0ZM189.8 286.1L196.0 290.6L208.9 303.7L215.4 311.1L216.8 313.0L219.6 313.6L223.8 314.0L242.8 311.1L249.4 309.9L250.1 311.1L260.0 324.3L262.4 331.5L265.5 340.9L267.3 352.0L269.3 365.7L270.4 372.5L269.3 379.3L267.8 393.0L267.8 405.6L263.3 413.4L249.4 421.8L242.8 413.4L239.1 400.1L219.6 394.9L216.2 393.0L207.3 381.0L189.8 374.9L188.3 373.5L188.2 372.5L183.6 356.3L181.9 352.0L178.4 344.2L177.2 331.5L180.4 317.5L181.6 311.1L182.5 306.0L187.2 290.6ZM431.1 374.5L428.2 385.6L424.4 372.5L428.2 359.4L431.3 370.4L431.5 372.5ZM312.3 372.5L319.5 359.3L319.5 352.0L309.0 336.1L298.8 352.0L297.4 360.0L305.2 372.5L305.7 374.8L309.0 375.5ZM249.4 316.8L231.8 319.5L219.6 318.4L211.5 316.6L207.4 311.1L189.8 291.2L184.8 307.6L184.1 311.1L183.4 315.5L179.7 331.5L181.0 346.0L183.7 352.0L185.1 355.3L189.8 372.1L190.2 372.5L209.7 379.3L219.6 392.7L220.1 393.0L241.2 398.6L245.3 413.4L249.4 418.6L258.0 413.4L264.1 403.0L264.1 393.0L265.2 382.1L266.7 372.5L265.2 362.9L263.7 352.0L262.2 343.2L258.3 331.5L256.6 326.6Z"/>
<path fill="#ff7c00" stroke="#ff7c00" stroke-width="0.7" d="M309.0 375.5L305.7 374.8L305.2 372.5L297.4 360.0L298.8 352.0L309.0 336.1L319.5 352.0L319.5 359.3L312.3 372.5ZM256.6 326.6L258.3 331.5L262.2 343.2L263.7 352.0L265.2 362.9L266.7 372.5L265.2 382.1L264.1 393.0L264.1 403.0L258.0 413.4L249.4 418.6L245.3 413.4L241.2 398.6L220.1 393.0L219.6 392.7L209.7 379.3L190.2 372.5L189.8 372.1L185.1 355.3L183.7 352.0L181.0 346.0L179.7 331.5L183.4 315.5L184.1 311.1L184.8 307.6L189.8 291.2L207.4 311.1L211.5 316.6L219.6 318.4L231.8 319.5L249.4 316.8ZM309.0 366.4L314.7 356.0L314.7 352.0L309.0 343.4L303.5 352.0L302.7 356.3ZM249.4 323.5L239.9 325.0L219.6 323.2L206.2 320.3L199.3 311.1L189.8 300.3L187.1 309.2L186.7 311.1L186.3 313.5L182.1 331.5L183.7 347.8L185.6 352.0L186.5 354.3L189.8 366.1L197.4 372.5L212.1 377.7L219.6 387.7L227.6 393.0L243.3 397.2L247.8 413.4L249.4 415.4L252.7 413.5L260.3 400.4L260.3 393.0L261.1 384.9L263.1 372.5L261.1 360.1L260.0 352.0L258.9 345.5L254.2 331.5L253.3 328.8Z"/>
<path fill="#ff6100" stroke="#ff6100" stroke-width="0.7" d="M302.7 356.3L303.5 352.0L309.0 343.4L314.7 352.0L314.7 356.0L309.0 366.4ZM253.3 328.8L254.2 331.5L258.9 345.5L260.0 352.0L261.1 360.1L263.1 372.5L261.1 384.9L260.3 393.0L260.3 400.4L252.7 413.5L249.4 415.4L247.8 413.4L243.3 397.2L227.6 393.0L219.6 387.7L212.1 377.7L197.4 372.5L189.8 366.1L186.5 354.3L185.6 352.0L183.7 347.8L182.1 331.5L186.3 313.5L186.7 311.1L187.1 309.2L189.8 300.3L199.3 311.1L206.2 320.3L219.6 323.2L239.9 325.0L249.4 323.5ZM309.0 354.3L309.9 352.6L309.9 352.0L309.0 350.7L308.1 352.0L308.0 352.7ZM249.4 330.3L247.9 330.5L219.6 328.0L200.9 323.9L191.3 311.1L189.8 309.4L189.4 310.8L189.3 311.1L189.2 311.5L184.6 331.5L186.3 349.6L187.4 352.0L187.9 353.3L189.8 360.0L204.6 372.5L214.5 376.0L219.6 382.8L235.2 393.0L245.4 395.7L249.4 410.0L256.5 397.8L256.5 393.0L257.0 387.7L259.5 372.5L257.0 357.3L256.3 352.0L255.6 347.8L250.2 331.5L250.0 331.1Z"/>
<path fill="#ff4500" stroke="#ff4500" stroke-width="0.7" d="M308.0 352.7L308.1 352.0L309.0 350.7L309.9 352.0L309.9 352.6L309.0 354.3ZM250.0 331.1L250.2 331.5L255.6 347.8L256.3 352.0L257.0 357.3L259.5 372.5L257.0 387.7L256.5 393.0L256.5 397.8L249.4 410.0L245.4 395.7L235.2 393.0L219.6 382.8L214.5 376.0L204.6 372.5L189.8 360.0L187.9 353.3L187.4 352.0L186.3 349.6L184.6 331.5L189.2 311.5L189.3 311.1L189.4 310.8L189.8 309.4L191.3 311.1L200.9 323.9L219.6 328.0L247.9 330.5L249.4 330.3ZM189.4 352.3L189.8 353.9L211.7 372.5L216.9 374.3L219.6 377.9L242.8 393.0L247.5 394.2L249.4 400.9L252.7 395.2L252.7 393.0L253.0 390.5L255.8 372.5L253.0 354.5L252.6 352.0L252.3 350.0L249.4 341.4L236.7 340.2L219.6 335.3L214.1 331.5L195.6 327.5L189.8 319.8L187.1 331.5L189.0 351.5L189.2 352.0Z"/>
<path fill="#ff2900" stroke="#ff2900" stroke-width="0.7" d="M189.2 352.0L189.0 351.5L187.1 331.5L189.8 319.8L195.6 327.5L214.1 331.5L219.6 335.3L236.7 340.2L249.4 341.4L252.3 350.0L252.6 352.0L253.0 354.5L255.8 372.5L253.0 390.5L252.7 393.0L252.7 395.2L249.4 400.9L247.5 394.2L242.8 393.0L219.6 377.9L216.9 374.3L211.7 372.5L189.8 353.9L189.4 352.3ZM189.8 334.1L215.8 352.0L215.8 369.9L218.9 372.5L219.4 372.7L219.6 373.0L232.8 381.6L249.4 390.1L252.2 372.5L249.4 354.9L232.8 363.4L232.8 352.0L221.2 351.0L219.6 350.5L192.0 331.5L190.3 331.2L189.8 330.5L189.6 331.5Z"/>
<path fill="#ff0e00" stroke="#ff0e00" stroke-width="0.7" d="M189.6 331.5L189.8 330.5L190.3 331.2L192.0 331.5L219.6 350.5L221.2 351.0L232.8 352.0L232.8 363.4L249.4 354.9L252.2 372.5L249.4 390.1L232.8 381.6L219.6 373.0L219.4 372.7L218.9 372.5L215.8 369.9L215.8 352.0L189.8 334.1Z"/>
<polygon fill="#0000ff" points="100.0,347.5 107.0,348.7 116.0,371.4 123.0,379.0 140.0,384.2 152.0,384.2 160.0,388.0 165.0,398.0 170.0,420.0 176.5,442.0 181.5,464.0 186.0,486.0 190.0,505.0 194.5,519.0 200.0,526.0 205.0,530.0 100.0,530.0"/>
</g>
<g clip-path="url(#ca)" stroke="#5a5a5a" stroke-width="1.5" fill="none">
<circle cx="100.1" cy="185.5" r="10.2" fill="#fff"/>
<path d="M91.9 179.5H108.3M100.1 179.5V175.3"/>
<path d="M91.9 191.5H108.3M100.1 191.5V195.7"/>
<circle cx="129.9" cy="185.1" r="10.2" fill="#fff"/>
<path d="M121.7 179.1H138.1M129.9 179.1V174.9"/>
<path d="M121.7 191.1H138.1M129.9 191.1V195.3"/>
<circle cx="159.7" cy="169.8" r="10.2" fill="#fff"/>
<path d="M151.5 163.8H167.9M159.7 163.8V159.6"/>
<path d="M151.5 175.8H167.9M159.7 175.8V180.0"/>
<circle cx="189.5" cy="172.2" r="10.2" fill="#fff"/>
<path d="M181.3 166.2H197.7M189.5 166.2V162.0"/>
<path d="M181.3 178.2H197.7M189.5 178.2V182.4"/>
<circle cx="219.3" cy="188.4" r="10.2" fill="#fff"/>
<path d="M211.1 182.4H227.5M219.3 182.4V178.2"/>
<path d="M211.1 194.4H227.5M219.3 194.4V198.6"/>
<circle cx="249.1" cy="169.6" r="10.2" fill="#fff"/>
<path d="M240.9 163.6H257.3M249.1 163.6V159.4"/>
<path d="M240.9 175.6H257.3M249.1 175.6V179.8"/>
<circle cx="278.9" cy="165.8" r="10.2" fill="#fff"/>
<path d="M272.6 157.8H285.2M278.9 157.8V155.6"/>
<path d="M271.5 172.8H286.3M278.9 172.8V176.0"/>
<circle cx="308.7" cy="166.2" r="10.2" fill="#fff"/>
<path d="M301.3 159.2H316.1M308.7 159.2V156.0"/>
<path d="M300.9 172.8H316.5M308.7 172.8V176.4"/>
<circle cx="338.5" cy="157.8" r="10.2" fill="#fff"/>
<path d="M332.2 149.8H344.8M338.5 149.8V147.6"/>
<path d="M331.3 165.0H345.7M338.5 165.0V168.0"/>
<circle cx="368.3" cy="136.8" r="10.2" fill="#fff"/>
<path d="M359.8 126.9H376.8M368.3 126.9V126.6"/>
<path d="M359.8 149.2H376.8M368.3 149.2V147.0"/>
<circle cx="398.1" cy="138.9" r="10.2" fill="#fff"/>
<path d="M389.6 129.0H406.6M398.1 129.0V128.7"/>
<path d="M389.6 150.3H406.6M398.1 150.3V149.1"/>
<circle cx="427.9" cy="141.6" r="10.2" fill="#fff"/>
<path d="M419.4 130.2H436.4M427.9 130.2V131.4"/>
<path d="M419.4 154.0H436.4M427.9 154.0V151.8"/>
<circle cx="457.7" cy="136.4" r="10.2" fill="#fff"/>
<path d="M449.2 125.5H466.2M457.7 125.5V126.2"/>
<path d="M449.2 149.1H466.2M457.7 149.1V146.6"/>
<circle cx="487.5" cy="129.3" r="10.2" fill="#fff"/>
<path d="M479.0 118.5H496.0M487.5 118.5V119.1"/>
<path d="M479.0 141.6H496.0M487.5 141.6V139.5"/>
<circle cx="517.3" cy="129.6" r="10.2" fill="#fff"/>
<path d="M508.8 118.3H525.8M517.3 118.3V119.4"/>
<path d="M508.8 141.6H525.8M517.3 141.6V139.8"/>
<circle cx="547.1" cy="112.1" r="10.2" fill="#fff"/>
<path d="M538.6 100.2H555.6M547.1 100.2V101.9"/>
<path d="M538.6 124.1H555.6M547.1 124.1V122.3"/>
</g>
<line x1="103.8" y1="189.3" x2="543.5" y2="124.7" stroke="#000" stroke-width="2.5"/>
<g clip-path="url(#cb)">
<polyline points="101.7,306.8 131.4,323.4 161.0,339.7 191.0,359.4 220.7,388.5" fill="none" stroke="#000" stroke-width="2.6"/>
<rect x="92.9" y="297.9" width="17.7" height="17.7" fill="#000"/>
<rect x="122.6" y="314.5" width="17.7" height="17.7" fill="#000"/>
<rect x="152.2" y="330.8" width="17.7" height="17.7" fill="#000"/>
<rect x="182.2" y="350.5" width="17.7" height="17.7" fill="#000"/>
<rect x="211.8" y="379.6" width="17.7" height="17.7" fill="#000"/>
<rect x="93.2" y="330.8" width="16.5" height="16.5" fill="#fff" stroke="#111" stroke-width="1.3"/>
<rect x="123.2" y="372.4" width="16.5" height="16.5" fill="#fff" stroke="#111" stroke-width="1.3"/>
<rect x="152.9" y="376.1" width="16.5" height="16.5" fill="#fff" stroke="#111" stroke-width="1.3"/>
<rect x="182.8" y="462.2" width="16.5" height="16.5" fill="#fff" stroke="#111" stroke-width="1.3"/>
<rect x="212.7" y="516.5" width="16.5" height="16.5" fill="#fff" stroke="#111" stroke-width="1.3"/>
<path d="M100,341.5 C112,349 130,363 145,383 C162,405 178,432 190,455 C202,478 212,500 220,530" fill="none" stroke="#000" stroke-width="2.6"/>
</g>
<g fill="none" stroke="#000">
<rect x="100" y="46" width="447.3" height="483.75" stroke-width="3.3"/>
<line x1="98.5" y1="207.5" x2="548.8" y2="207.5" stroke-width="5.6"/>
</g>
<path d="M94 45.5H99M94 126.5H99M94 207.6H99M96.5 86.0H99M96.5 167.1H99M94 208.7H99M94 290.6H99M94 372.5H99M94 454.4H99M96.5 249.6H99M96.5 331.5H99M96.5 413.4H99M96.5 495.3H99M94 529.5H99M100.4 530V535.5M130.2 530V535.5M130.2 205V202M160.0 530V535.5M160.0 205V202M189.8 530V535.5M189.8 205V202M219.6 530V535.5M219.6 205V202M249.4 530V535.5M249.4 205V202M279.2 530V535.5M279.2 205V202M309.0 530V535.5M309.0 205V202M338.8 530V535.5M338.8 205V202M368.6 530V535.5M368.6 205V202M398.4 530V535.5M398.4 205V202M428.2 530V535.5M428.2 205V202M458.0 530V535.5M458.0 205V202M487.8 530V535.5M487.8 205V202M517.6 530V535.5M517.6 205V202M547.4 530V535.5" stroke="#000" stroke-width="3" fill="none"/>
<line x1="414.8" y1="127.7" x2="477.7" y2="80.8" stroke="#000" stroke-width="2.2"/><polygon points="487.3,73.6 480.8,86.6 473.0,76.2" fill="#000"/>
<line x1="152.4" y1="327.1" x2="167.9" y2="270.3" stroke="#000" stroke-width="1.3"/><polygon points="170.8,259.7 172.9,272.7 162.3,269.8" fill="#000"/>
<line x1="215.5" y1="497.3" x2="247.2" y2="485.8" stroke="#000" stroke-width="1.4"/><polygon points="257.5,482.0 248.1,491.3 244.3,480.9" fill="#000"/>
<line x1="99.5" y1="632.0" x2="544.0" y2="632.0" stroke="#000" stroke-width="2.6"/><polygon points="555.0,632.0 543.0,637.5 543.0,626.5" fill="#000"/>
<line x1="99.3" y1="628" x2="99.3" y2="637" stroke="#000" stroke-width="2.2"/>
<rect x="567.9" y="46.7" width="21" height="134.3" fill="#00ff80"/>
<rect x="567.9" y="46.7" width="21" height="47.3" fill="#2af52a"/>
<rect x="567.9" y="46.7" width="21" height="14.5" fill="#05ff0a"/>
<rect x="567.9" y="46.7" width="21" height="2.3" fill="#fff"/>
<rect x="567.9" y="172.6" width="21" height="8.4" fill="#b4b4b4"/>
<rect x="566.4" y="45.4" width="24" height="137" fill="none" stroke="#000" stroke-width="2.6"/>
<path d="M591.5 48.3H597M591.5 74.7H597M591.5 101.1H597M591.5 127.5H597M591.5 153.9H597M591.5 180.3H597" stroke="#000" stroke-width="2.6"/>
<rect x="568.6" y="312.8" width="24.3" height="206.4" fill="#fff"/>
<rect x="568.6" y="509.50" width="24.3" height="10.00" fill="#0000ff"/>
<rect x="568.6" y="504.00" width="24.3" height="5.80" fill="#0000ff"/>
<rect x="568.6" y="498.50" width="24.3" height="5.80" fill="#0000ff"/>
<rect x="568.6" y="493.00" width="24.3" height="5.80" fill="#00ff80"/>
<rect x="568.6" y="487.50" width="24.3" height="5.80" fill="#00ff80"/>
<rect x="568.6" y="482.00" width="24.3" height="5.80" fill="#00ff80"/>
<rect x="568.6" y="476.50" width="24.3" height="5.80" fill="#00ff80"/>
<rect x="568.6" y="471.00" width="24.3" height="5.80" fill="#00ff80"/>
<rect x="568.6" y="465.50" width="24.3" height="5.80" fill="#00ff80"/>
<rect x="568.6" y="460.00" width="24.3" height="5.80" fill="#00ff80"/>
<rect x="568.6" y="454.50" width="24.3" height="5.80" fill="#00ff80"/>
<rect x="568.6" y="449.01" width="24.3" height="5.80" fill="#00ff80"/>
<rect x="568.6" y="443.51" width="24.3" height="5.80" fill="#00ff80"/>
<rect x="568.6" y="438.01" width="24.3" height="5.80" fill="#00ff80"/>
<rect x="568.6" y="432.51" width="24.3" height="5.80" fill="#00ff80"/>
<rect x="568.6" y="427.01" width="24.3" height="5.80" fill="#00ff80"/>
<rect x="568.6" y="421.51" width="24.3" height="5.80" fill="#00ff6a"/>
<rect x="568.6" y="416.01" width="24.3" height="5.80" fill="#00ff40"/>
<rect x="568.6" y="410.51" width="24.3" height="5.80" fill="#00ff16"/>
<rect x="568.6" y="405.01" width="24.3" height="5.80" fill="#12ff00"/>
<rect x="568.6" y="399.51" width="24.3" height="5.80" fill="#37ff00"/>
<rect x="568.6" y="394.01" width="24.3" height="5.80" fill="#5bff00"/>
<rect x="568.6" y="388.51" width="24.3" height="5.80" fill="#80ff00"/>
<rect x="568.6" y="383.01" width="24.3" height="5.80" fill="#a2ff00"/>
<rect x="568.6" y="377.51" width="24.3" height="5.80" fill="#c4ff00"/>
<rect x="568.6" y="372.01" width="24.3" height="5.80" fill="#e7ff00"/>
<rect x="568.6" y="366.51" width="24.3" height="5.80" fill="#fff800"/>
<rect x="568.6" y="361.01" width="24.3" height="5.80" fill="#ffe000"/>
<rect x="568.6" y="355.51" width="24.3" height="5.80" fill="#ffc700"/>
<rect x="568.6" y="350.01" width="24.3" height="5.80" fill="#ffaf00"/>
<rect x="568.6" y="344.51" width="24.3" height="5.80" fill="#ff9700"/>
<rect x="568.6" y="339.01" width="24.3" height="5.80" fill="#ff7c00"/>
<rect x="568.6" y="333.51" width="24.3" height="5.80" fill="#ff6100"/>
<rect x="568.6" y="328.02" width="24.3" height="5.80" fill="#ff4500"/>
<rect x="568.6" y="322.52" width="24.3" height="5.80" fill="#ff2900"/>
<rect x="568.6" y="317.02" width="24.3" height="5.80" fill="#ff0e00"/>
<rect x="568.6" y="311.5" width="24.3" height="208.0" fill="none" stroke="#000" stroke-width="2.6"/>
<path d="M594 515.0H599.5M594 484.1H599.5M594 453.1H599.5M594 422.2H599.5M594 391.3H599.5M594 360.4H599.5M594 329.4H599.5" stroke="#000" stroke-width="2.6"/>
<g font-family="Liberation Sans, Arial, sans-serif" fill="#000">
<text x="555.0" y="16.8" font-size="23" text-anchor="start" letter-spacing="1">(a)</text>
<text x="553.2" y="237.8" font-size="23" text-anchor="start" letter-spacing="1">(b)</text>
<text x="89.3" y="51.9" font-size="20" text-anchor="end" >600</text>
<text x="89.3" y="132.9" font-size="20" text-anchor="end" >500</text>
<text x="89.3" y="214.0" font-size="20" text-anchor="end" >400</text>
<text x="89.3" y="297.0" font-size="20" text-anchor="end" >300</text>
<text x="89.3" y="378.9" font-size="20" text-anchor="end" >200</text>
<text x="89.3" y="460.8" font-size="20" text-anchor="end" >100</text>
<text x="89.3" y="534.6" font-size="20" text-anchor="end" >10</text>
<text transform="translate(17,275.3) rotate(-90)" font-size="24" text-anchor="middle">Temperature [K]</text>
<text transform="translate(107.6,536.7) rotate(-90)" font-size="19.7" text-anchor="end">0</text>
<text transform="translate(137.4,536.7) rotate(-90)" font-size="19.7" text-anchor="end">0.016</text>
<text transform="translate(167.2,536.7) rotate(-90)" font-size="19.7" text-anchor="end">0.033</text>
<text transform="translate(197.0,536.7) rotate(-90)" font-size="19.7" text-anchor="end">0.05</text>
<text transform="translate(226.8,536.7) rotate(-90)" font-size="19.7" text-anchor="end">0.07</text>
<text transform="translate(256.6,536.7) rotate(-90)" font-size="19.7" text-anchor="end">0.085</text>
<text transform="translate(286.4,536.7) rotate(-90)" font-size="19.7" text-anchor="end">0.1</text>
<text transform="translate(316.2,536.7) rotate(-90)" font-size="19.7" text-anchor="end">0.2</text>
<text transform="translate(346.0,536.7) rotate(-90)" font-size="19.7" text-anchor="end">0.3</text>
<text transform="translate(375.8,536.7) rotate(-90)" font-size="19.7" text-anchor="end">0.4</text>
<text transform="translate(405.6,536.7) rotate(-90)" font-size="19.7" text-anchor="end">0.5</text>
<text transform="translate(435.4,536.7) rotate(-90)" font-size="19.7" text-anchor="end">0.6</text>
<text transform="translate(465.2,536.7) rotate(-90)" font-size="19.7" text-anchor="end">0.7</text>
<text transform="translate(495.0,536.7) rotate(-90)" font-size="19.7" text-anchor="end">0.8</text>
<text transform="translate(524.8,536.7) rotate(-90)" font-size="19.7" text-anchor="end">0.9</text>
<text transform="translate(554.6,536.7) rotate(-90)" font-size="19.7" text-anchor="end">1</text>
<text x="312.5" y="619.5" font-size="20" text-anchor="middle" >Composition <tspan font-style="italic">x</tspan></text>
<text x="35.5" y="639.0" font-size="20" text-anchor="start" >Mn<tspan font-size="14" dy="5">3</tspan><tspan dy="-5">Sn</tspan></text>
<text x="559.3" y="639.2" font-size="20" text-anchor="start" >Mn<tspan font-size="14" dy="5">3</tspan><tspan dy="-5">Ga</tspan></text>
<text x="261.5" y="655.4" font-size="20" text-anchor="start" >Mn<tspan font-size="14" dy="5">3</tspan><tspan dy="-5">Sn</tspan><tspan font-size="14" dy="5">1-x</tspan><tspan dy="-5">Ga</tspan><tspan font-size="14" dy="5">x</tspan></text>
<text x="232.5" y="99.8" font-size="20" text-anchor="start" >Paramagnetic state</text>
<text x="490.5" y="77.8" font-size="19.5" text-anchor="start" >T<tspan font-size="13.5" dy="4.5">N</tspan></text>
<text x="130.2" y="243.3" font-size="19" text-anchor="start" >0.9<tspan font-size="15" dx="0.6" dy="-1.2">×</tspan><tspan dx="0.8" dy="1.2">ρ</tspan><tspan font-size="14.5" dy="5">yx</tspan><tspan font-size="14.5" dx="-14" dy="-14.5">max</tspan><tspan dy="9.5">(T)</tspan></text>
<text x="267.2" y="482.0" font-size="19" text-anchor="start" >0.1<tspan font-size="15" dx="0.6" dy="-1.2">×</tspan><tspan dx="0.8" dy="1.2">ρ</tspan><tspan font-size="14.5" dy="5">yx</tspan><tspan font-size="14.5" dx="-14" dy="-14.5">max</tspan><tspan dy="9.5">(T)</tspan></text>
<text transform="translate(294,389.5) rotate(-45)" font-size="19.5">Antichiral&#160; antiferromagnetic&#160; state</text>
<g fill="#fff" font-size="19.5">
<text x="101.3" y="450.7" font-size="19.5" text-anchor="start" >Helical</text>
<text x="101.3" y="475.8" font-size="19.5" text-anchor="start" >and/or</text>
<text x="101.3" y="499.0" font-size="19.5" text-anchor="start" >spin-glass</text>
<text x="101.3" y="524.0" font-size="19.5" text-anchor="start" >state</text>
</g>
<text x="600.8" y="54.7" font-size="20" text-anchor="start" >1</text>
<text x="600.8" y="81.1" font-size="20" text-anchor="start" >0.8</text>
<text x="600.8" y="107.5" font-size="20" text-anchor="start" >0.6</text>
<text x="600.8" y="133.9" font-size="20" text-anchor="start" >0.4</text>
<text x="600.8" y="160.3" font-size="20" text-anchor="start" >0.2</text>
<text x="600.8" y="186.7" font-size="20" text-anchor="start" >0</text>
<text x="605.8" y="521.2" font-size="20" text-anchor="start" >0.0</text>
<text x="605.8" y="490.3" font-size="20" text-anchor="start" >0.5</text>
<text x="605.8" y="459.3" font-size="20" text-anchor="start" >1.0</text>
<text x="605.8" y="428.4" font-size="20" text-anchor="start" >1.5</text>
<text x="605.8" y="397.5" font-size="20" text-anchor="start" >2.0</text>
<text x="605.8" y="366.6" font-size="20" text-anchor="start" >2.5</text>
<text x="605.8" y="335.6" font-size="20" text-anchor="start" >3.0</text>
<text transform="translate(665,113.6) rotate(-90)" font-size="20.2" text-anchor="middle">M(T)/M(T=300K)</text>
<text transform="translate(675.5,411.8) rotate(-90)" font-size="23.5" text-anchor="middle">ρ<tspan font-size="16" dy="5.5">yx</tspan><tspan dy="-5.5">(H=0) [μΩcm]</tspan></text>
</g>
</svg>
</body></html>
